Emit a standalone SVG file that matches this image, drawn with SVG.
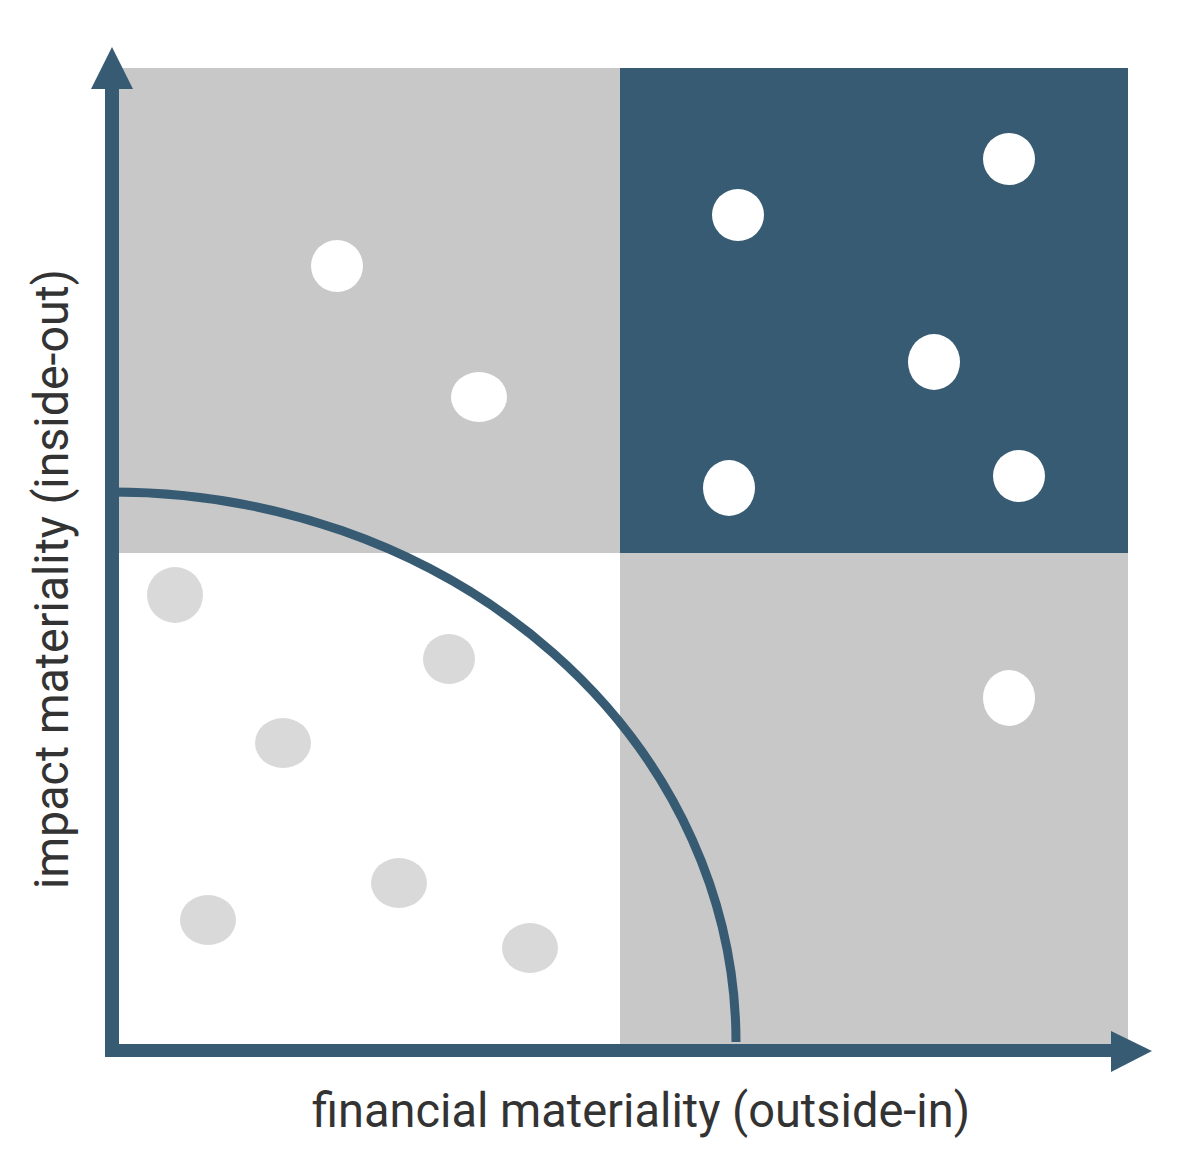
<svg xmlns="http://www.w3.org/2000/svg" width="1200" height="1174" viewBox="0 0 1200 1174">
  <style>
    .grey { fill: #c8c8c8; }
    .dark { fill: #365b73; }
    .dot { fill: #ffffff; }
    .ldot { fill: #d9d9d9; }
    .axis { stroke: #365b73; fill: none; }
    .head { fill: #365b73; }
    .label { font-family: Roboto, "Liberation Sans", sans-serif; font-size: 49px; fill: #333333; }
  </style>
  <rect width="1200" height="1174" fill="#ffffff"/>
  <g id="quadrants">
    <rect id="q-top-left" class="grey" x="119" y="68" width="501" height="485"/>
    <rect id="q-top-right" class="dark" x="620" y="68" width="508" height="485"/>
    <rect id="q-bottom-right" class="grey" x="620" y="553" width="508" height="491"/>
  </g>
  <g id="dots-top-left">
    <ellipse class="dot" cx="337" cy="266" rx="26" ry="26"/>
    <ellipse class="dot" cx="479" cy="397" rx="28" ry="25"/>
  </g>
  <g id="dots-top-right">
    <ellipse class="dot" cx="738" cy="215" rx="26" ry="26"/>
    <ellipse class="dot" cx="1009" cy="159" rx="26" ry="26"/>
    <ellipse class="dot" cx="934" cy="362" rx="26" ry="28"/>
    <ellipse class="dot" cx="729" cy="488" rx="26" ry="28"/>
    <ellipse class="dot" cx="1019" cy="476" rx="26" ry="26"/>
  </g>
  <g id="dots-bottom-right">
    <ellipse class="dot" cx="1009" cy="698" rx="26" ry="28"/>
  </g>
  <g id="dots-bottom-left">
    <ellipse class="ldot" cx="175" cy="595" rx="28" ry="28"/>
    <ellipse class="ldot" cx="449" cy="659" rx="26" ry="25"/>
    <ellipse class="ldot" cx="283" cy="743" rx="28" ry="25"/>
    <ellipse class="ldot" cx="399" cy="883" rx="28" ry="25"/>
    <ellipse class="ldot" cx="208" cy="920" rx="28" ry="25"/>
    <ellipse class="ldot" cx="530" cy="948" rx="28" ry="25"/>
  </g>
  <g id="threshold-curve">
    <path class="axis" stroke-width="9" d="M105 492 H112 A624 550 0 0 1 736 1042"/>
  </g>
  <g id="connectors">
    <line class="axis" x1="112" y1="1057" x2="112" y2="88" stroke-width="14"/>
    <polygon class="head" points="112,47 133,89 91,89"/>
    <line class="axis" x1="105" y1="1050.5" x2="1112" y2="1050.5" stroke-width="13"/>
    <polygon class="head" points="1152,1051 1111,1031 1111,1072"/>
  </g>
  <g id="labels">
    <text class="label" x="312" y="1127" textLength="658" lengthAdjust="spacingAndGlyphs">financial materiality (outside-in)</text>
    <text class="label" transform="translate(68,889) rotate(-90)" x="0" y="0" textLength="620" lengthAdjust="spacingAndGlyphs">impact materiality (inside-out)</text>
  </g>
</svg>
